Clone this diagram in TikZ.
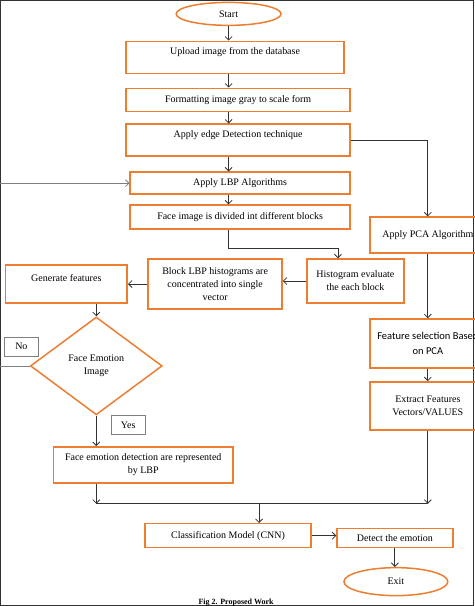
\documentclass[tikz,border=0pt]{standalone}
\usepackage{fontspec}
\setmainfont{Liberation Serif}
\newfontfamily\calibri{Carlito}
\usetikzlibrary{shapes.geometric,arrows.meta}

\definecolor{boxorange}{RGB}{237,125,49}
\definecolor{lineblack}{RGB}{50,50,50}

\begin{document}
\begin{tikzpicture}[
			x=1pt, y=-1pt,
			font=\fontsize{10}{13}\selectfont,
			>={Straight Barb[length=3.5pt,width=7pt]},
			every path/.style = {draw=lineblack, line width=0.8pt},
			block/.style = {draw=boxorange, line width=1.5pt, rectangle, align=center, inner sep=0pt},
			term/.style = {draw=boxorange, line width=1.5pt, ellipse, inner sep=0pt},
			decision/.style = {draw=boxorange, line width=1.5pt, diamond, align=center, inner sep=0pt},
			tag/.style = {draw=gray, line width=0.6pt, rectangle, inner sep=0pt, minimum width=34pt, minimum height=19pt}
		]
		\useasboundingbox (0,0) rectangle (474,606);
		% left branch
		\node[term, minimum width=105pt, minimum height=23pt] (start) at (228.5,13.5) {Start};
		\node[block, minimum width=218pt, minimum height=32pt] (upload) at (235,57) {Upload image from the database\\ \mbox{}};
		\node[block, minimum width=224pt, minimum height=23pt] (format) at (238,99.5) {Formatting image gray to scale form};
		\node[block, minimum width=224pt, minimum height=32pt] (edge) at (238,140) {Apply edge Detection technique\\ \mbox{}};
		\node[block, minimum width=220pt, minimum height=22pt] (lbp) at (240,183) {Apply LBP Algorithms};
		\node[block, minimum width=220pt, minimum height=24pt] (divide) at (240,217) {Face image is divided int different blocks};
		\node[block, minimum width=97pt, minimum height=44pt] (hist) at (355.5,281) {Histogram evaluate\\the each block};
		\node[block, minimum width=134pt, minimum height=50pt] (concat) at (215,284) {Block LBP histograms are\\concentrated into single\\vector};
		\node[block, minimum width=122pt, minimum height=38pt] (gen) at (66,284) {Generate features\\ \mbox{}};
		\node[decision, minimum width=132pt, minimum height=98pt] (emo) at (96,366) {Face Emotion\\Image};
		\node[tag] (no) at (21,346.5) {No};
		\node[tag] (yes) at (128,425) {Yes};
		\node[block, minimum width=180pt, minimum height=36pt] (rep) at (143,465) {Face emotion detection are represented\\by LBP};
		% right branch
		\node[block, minimum width=116pt, minimum height=36pt] (pca) at (428,235) {Apply PCA Algorithm};
		\node[block, minimum width=116pt, minimum height=49pt, font=\calibri\fontsize{10.5}{15}\selectfont] (feat) at (428,343.5) {Feature selection Based\\on PCA};
		\node[block, minimum width=116pt, minimum height=48pt] (extr) at (428,406) {Extract Features\\Vectors/VALUES};
		% bottom
		\node[block, minimum width=166pt, minimum height=24pt] (cnn) at (228,536) {Classification Model (CNN)};
		\node[block, minimum width=116pt, minimum height=19pt] (detect) at (395,538.5) {Detect the emotion};
		\node[term, minimum width=104pt, minimum height=28pt] (exit) at (396,582) {Exit};
		\node[font=\bfseries\fontsize{8}{9}\selectfont] (caption) at (236,603) {Fig 2. Proposed Work};
		\coordinate (split) at (338,248);
		\coordinate (merge) at (259,504);

		\draw[->] (start) -- (start |- upload.north);
		\draw[->] (upload.south -| start) -- (format.north -| start);
		\draw[->] (format.south -| start) -- (edge.north -| start);
		\draw[->] (edge.south -| start) -- (lbp.north -| start);
		\draw[->] (lbp.south -| start) -- (divide.north -| start);
		\draw[->] (divide.south -| start) |- (split) -- (hist.north -| split);
		\draw[->] (hist.west) -- (hist.west -| concat.east);
		\draw[->] (concat.west) -- (concat.west -| gen.east);
		\draw[->] (gen.south -| emo) -- (emo.north);
		\draw[->, draw=gray] (emo.west) -- ++(-40,0) |- (lbp.west);
		\draw[->] (emo.south) -- (emo.south |- rep.north);
		\draw[->] (edge.east) -| (pca.north);
		\draw[->] (pca.south) -- (feat.north);
		\draw[->] (feat.south) -- (extr.north);
		\draw[->] (rep.south -| emo) -- (emo |- merge);
		\draw[->] (extr.south) -- (extr |- merge);
		\draw (emo |- merge) -- (extr |- merge);
		\draw[->] (merge) -- (merge |- cnn.north);
		\draw[->] (cnn.east) -- (cnn.east -| detect.west);
		\draw[->] (detect.south) -- (detect.south |- exit.north);
	\end{tikzpicture}
\end{document}
